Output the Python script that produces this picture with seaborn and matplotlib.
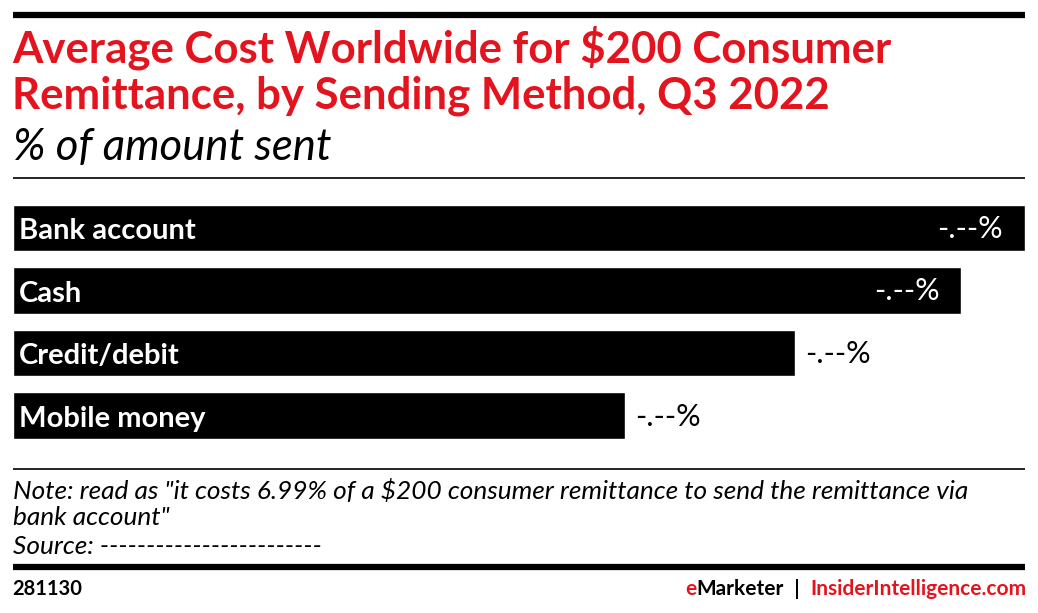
import matplotlib
matplotlib.use("Agg")
import matplotlib.pyplot as plt
import seaborn as sns
import pandas as pd

categories = ["Bank account", "Cash", "Credit/debit", "Mobile money"]
values = [6.99, 6.55, 5.40, 4.23]
value_labels = ["-.--%", "-.--%", "-.--%", "-.--%"]

title_lines = ["Average Cost Worldwide for $200 Consumer",
               "Remittance, by Sending Method, Q3 2022"]
subtitle = "% of amount sent"
note_lines = ["Note: read as \"it costs 6.99% of a $200 consumer remittance to send the remittance via",
              "bank account\""]
source = "Source: " + "-" * 24
chart_id = "281130"

sns.set_theme(style="white")
plt.rcParams["font.family"] = ["Lato", "DejaVu Sans"]

RED = "#E3141E"
W, H = 1038, 613
fig = plt.figure(figsize=(W / 100, H / 100), dpi=100)

def fx(px):
    return px / W

def fy(py):
    return 1 - py / H

PT = 0.72  # points per pixel at dpi 100

df = pd.DataFrame({"cat": categories, "val": values})
ax = fig.add_axes([fx(13), fy(446.75), fx(1025) - fx(13), (446.75 - 196.75) / H])
sns.barplot(data=df, y="cat", x="val", orient="h", color="black", width=0.74,
            saturation=1, ax=ax)
ax.set_xlim(0, values[0])
ax.set_ylim(3.5, -0.5)
ax.axis("off")

for i, (c, v, lab) in enumerate(zip(categories, values, value_labels)):
    ax.annotate(c, (0, i), xytext=(6 * PT, -3 * PT), textcoords="offset points",
                color="white", fontsize=21, fontweight="bold", va="center", ha="left")
    if v > 6:
        ax.annotate(lab, (v, i), xytext=(-22 * PT, -1 * PT), textcoords="offset points",
                    color="white", fontsize=22, va="center", ha="right")
    else:
        ax.annotate(lab, (v, i), xytext=(10 * PT, -1 * PT), textcoords="offset points",
                    color="black", fontsize=22, va="center", ha="left")

def hline(py, lw):
    fig.add_artist(plt.Line2D([fx(13), fx(1025)], [fy(py), fy(py)], color="black",
                              linewidth=lw, solid_capstyle="butt"))

hline(15, 4.5)
hline(178, 1.2)
hline(469, 1.2)
hline(567, 4.5)

for line, base in zip(title_lines, [63, 108]):
    fig.text(fx(12), fy(base), line, color=RED, fontsize=31.5, fontweight="bold",
             va="baseline", ha="left")
fig.text(fx(13), fy(160), subtitle, color="black", fontsize=31.5, style="italic",
         va="baseline", ha="left")
for line, base in zip(note_lines, [499, 525]):
    fig.text(fx(13), fy(base), line, color="black", fontsize=18.9, style="italic",
             va="baseline", ha="left")
fig.text(fx(13), fy(554), source, color="black", fontsize=18.9, style="italic",
         va="baseline", ha="left")
fig.text(fx(12), fy(595), chart_id, color="black", fontsize=14.5, fontweight="bold",
         va="baseline", ha="left")

renderer = fig.canvas.get_renderer()
x_right = fx(1026)
parts = [("InsiderIntelligence.com", RED), ("  |  ", "black"), ("Marketer", "black"), ("e", RED)]
for txt, col in parts:
    t = fig.text(x_right, fy(595), txt, color=col, fontsize=15, fontweight="bold",
                 va="baseline", ha="right")
    bb = t.get_window_extent(renderer=renderer)
    x_right -= bb.width / W

fig.savefig("out.png", dpi=100)
